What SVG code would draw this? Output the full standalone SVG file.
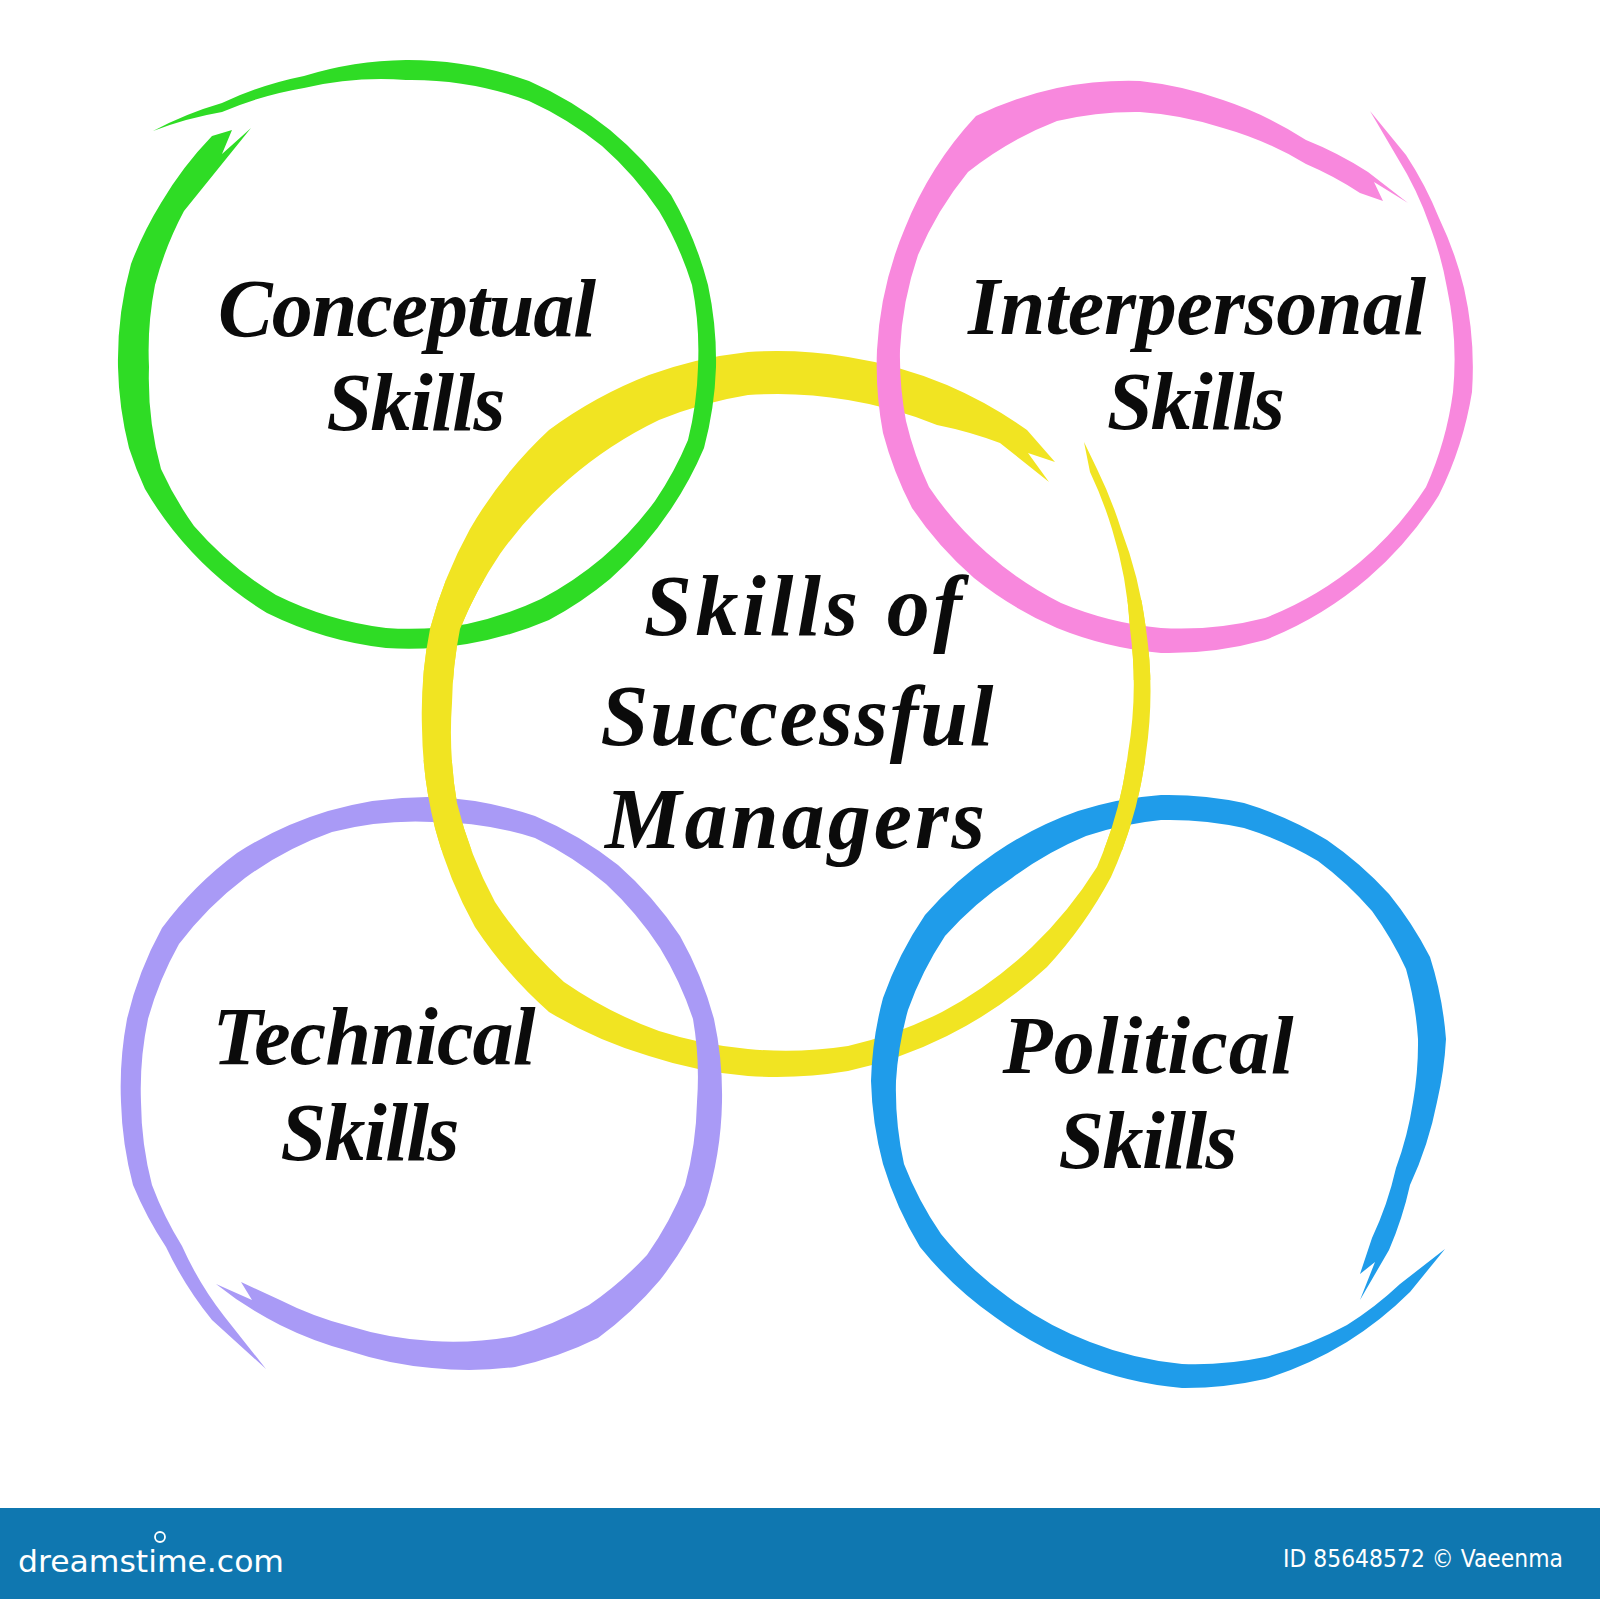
<svg xmlns="http://www.w3.org/2000/svg" xmlns:xlink="http://www.w3.org/1999/xlink" width="1600" height="1599" viewBox="0 0 1600 1599">
<style>
.lbl{font-family:"Liberation Serif","Times New Roman",serif;font-weight:bold;font-style:italic;font-size:82px;fill:#0b0b0b;text-anchor:middle}
.big{font-size:86px}
.foot{font-family:"DejaVu Sans","Liberation Sans",sans-serif;fill:#ffffff}
</style>
<defs>
<path id="ring-yellow" d="M1055,462 L1027,430 A430 430 0 0 0 947,385 A430 430 0 0 0 848,357 A430 430 0 0 0 748,352 A430 430 0 0 0 649,375 A430 430 0 0 0 549,430 A430 430 0 0 0 470,529 A430 430 0 0 0 430,629 A430 430 0 0 0 422,728 A430 430 0 0 0 435,828 A430 430 0 0 0 475,927 A430 430 0 0 0 549,1012 A430 430 0 0 0 649,1056 A430 430 0 0 0 748,1076 A430 430 0 0 0 848,1071 A430 430 0 0 0 947,1036 A430 430 0 0 0 1047,967 A430 430 0 0 0 1111,877 A430 430 0 0 0 1146,753 A430 430 0 0 0 1146,629 A430 430 0 0 0 1121,529 A430 430 0 0 0 1097,469 L1084,442 L1090,472 A410 410 0 0 1 1112,529 A410 410 0 0 1 1130,629 A410 410 0 0 1 1128,753 A410 410 0 0 1 1097,867 A410 410 0 0 1 1032,947 A410 410 0 0 1 942,1012 A410 410 0 0 1 848,1046 A410 410 0 0 1 748,1049 A410 410 0 0 1 659,1031 A410 410 0 0 1 564,982 A410 410 0 0 1 495,902 A410 410 0 0 1 457,803 A410 410 0 0 1 452,703 A410 410 0 0 1 460,629 A410 410 0 0 1 500,554 A410 410 0 0 1 569,479 A410 410 0 0 1 659,420 A410 410 0 0 1 748,395 A410 410 0 0 1 848,400 A410 410 0 0 1 937,425 A410 410 0 0 1 1000,443 L1049,482 L1028,453 Z"/>
<clipPath id="yellow-over">
<rect x="400" y="580" width="120" height="100"/>
<rect x="1090" y="600" width="90" height="80"/>
<rect x="400" y="760" width="110" height="90"/>
<rect x="1080" y="760" width="100" height="90"/>
</clipPath>
</defs>
<rect x="0" y="0" width="1600" height="1599" fill="#ffffff"/>

<g id="center-ring">
<use xlink:href="#ring-yellow" href="#ring-yellow" fill="#f1e422"/>
</g>

<g id="conceptual-skills">
<path fill="#2fdc25" d="M232,130 L212,136 A360 360 0 0 0 161,203 A360 360 0 0 0 131,264 A360 360 0 0 0 118,367 A360 360 0 0 0 129,448 A360 360 0 0 0 145,489 A360 360 0 0 0 173,530 A360 360 0 0 0 267,613 A360 360 0 0 0 386,648 A360 360 0 0 0 467,644 A360 360 0 0 0 549,620 A360 360 0 0 0 610,579 A360 360 0 0 0 671,509 A360 360 0 0 0 704,448 A360 360 0 0 0 716,367 A360 360 0 0 0 708,285 A360 360 0 0 0 671,195 A360 360 0 0 0 610,130 A360 360 0 0 0 529,81 A360 360 0 0 0 406,60 A360 360 0 0 0 304,76 A360 360 0 0 0 222,103 A360 360 0 0 0 153,131 A360 360 0 0 1 222,112 A360 360 0 0 1 304,88 A340 340 0 0 1 406,80 A340 340 0 0 1 529,101 A340 340 0 0 1 602,146 A340 340 0 0 1 659,211 A340 340 0 0 1 692,285 A340 340 0 0 1 698,367 A340 340 0 0 1 688,440 A340 340 0 0 1 655,501 A340 340 0 0 1 602,558 A340 340 0 0 1 541,599 A340 340 0 0 1 467,624 A340 340 0 0 1 386,628 A340 340 0 0 1 276,595 A340 340 0 0 1 194,526 A340 340 0 0 1 161,469 A340 340 0 0 1 149,367 A340 340 0 0 1 155,285 A340 340 0 0 1 184,211 L251,128 L222,154 Z"/>
<text class="lbl" x="407" y="336" textLength="378" lengthAdjust="spacing">Conceptual</text>
<text class="lbl" x="416" y="430" textLength="179" lengthAdjust="spacing">Skills</text>
</g>

<g id="interpersonal-skills">
<path fill="#f888dd" d="M1408,203 L1368,172 A360 360 0 0 0 1306,140 A360 360 0 0 0 1223,100 A360 360 0 0 0 1140,81 A360 360 0 0 0 1057,88 A360 360 0 0 0 976,116 A360 360 0 0 0 905,228 A360 360 0 0 0 877,350 A360 360 0 0 0 883,433 A360 360 0 0 0 912,508 A360 360 0 0 0 974,578 A360 360 0 0 0 1057,628 A360 360 0 0 0 1161,653 A360 360 0 0 0 1265,640 A360 360 0 0 0 1368,578 A360 360 0 0 0 1439,495 A360 360 0 0 0 1472,392 A360 360 0 0 0 1464,288 A360 360 0 0 0 1439,218 A360 360 0 0 0 1406,155 L1370,111 L1397,157 A340 340 0 0 1 1430,226 A340 340 0 0 1 1447,288 A340 340 0 0 1 1453,392 A340 340 0 0 1 1426,487 A340 340 0 0 1 1360,562 A340 340 0 0 1 1265,618 A340 340 0 0 1 1161,628 A340 340 0 0 1 1061,603 A340 340 0 0 1 987,553 A340 340 0 0 1 929,487 A340 340 0 0 1 906,421 A340 340 0 0 1 900,350 A340 340 0 0 1 918,255 A340 340 0 0 1 968,172 A340 340 0 0 1 1057,121 A340 340 0 0 1 1140,112 A340 340 0 0 1 1223,128 A340 340 0 0 1 1306,164 A340 340 0 0 1 1360,193 L1383,201 L1374,182 Z"/>
<text class="lbl" x="1197" y="334" textLength="458" lengthAdjust="spacing">Interpersonal</text>
<text class="lbl" x="1196" y="429" textLength="178" lengthAdjust="spacing">Skills</text>
</g>

<g id="technical-skills">
<path fill="#a99af6" d="M216,1284 A360 360 0 0 0 280,1325 A360 360 0 0 0 349,1351 A360 360 0 0 0 432,1368 A360 360 0 0 0 515,1367 A360 360 0 0 0 598,1338 A360 360 0 0 0 660,1280 A360 360 0 0 0 705,1205 A360 360 0 0 0 722,1102 A360 360 0 0 0 714,1019 A360 360 0 0 0 680,936 A360 360 0 0 0 618,865 A360 360 0 0 0 535,816 A360 360 0 0 0 432,797 A360 360 0 0 0 328,811 A360 360 0 0 0 237,853 A360 360 0 0 0 162,928 A360 360 0 0 0 127,1019 A360 360 0 0 0 121,1102 A360 360 0 0 0 133,1185 A360 360 0 0 0 166,1247 A360 360 0 0 0 212,1320 L266,1369 L224,1316 A340 340 0 0 1 182,1246 A340 340 0 0 1 152,1185 A340 340 0 0 1 141,1102 A340 340 0 0 1 148,1019 A340 340 0 0 1 179,944 A340 340 0 0 1 245,878 A340 340 0 0 1 332,832 A340 340 0 0 1 432,822 A340 340 0 0 1 535,838 A340 340 0 0 1 606,884 A340 340 0 0 1 660,948 A340 340 0 0 1 693,1019 A340 340 0 0 1 697,1102 A340 340 0 0 1 685,1185 A340 340 0 0 1 647,1255 A340 340 0 0 1 589,1305 A340 340 0 0 1 515,1336 A340 340 0 0 1 432,1341 A340 340 0 0 1 349,1326 A340 340 0 0 1 280,1300 L241,1282 L252,1300 Z"/>
<text class="lbl" x="374" y="1064" textLength="323" lengthAdjust="spacing">Technical</text>
<text class="lbl" x="370" y="1160" textLength="179" lengthAdjust="spacing">Skills</text>
</g>

<g id="political-skills">
<path fill="#1f9cea" d="M1360,1300 L1389,1250 A360 360 0 0 0 1410,1185 A360 360 0 0 0 1437,1102 A360 360 0 0 0 1446,1039 A360 360 0 0 0 1430,957 A360 360 0 0 0 1389,894 A360 360 0 0 0 1327,840 A360 360 0 0 0 1244,803 A360 360 0 0 0 1161,795 A360 360 0 0 0 1078,811 A360 360 0 0 0 995,853 A360 360 0 0 0 925,915 A360 360 0 0 0 883,998 A360 360 0 0 0 871,1081 A360 360 0 0 0 883,1164 A360 360 0 0 0 920,1247 A360 360 0 0 0 995,1317 A360 360 0 0 0 1078,1363 A360 360 0 0 0 1182,1388 A360 360 0 0 0 1265,1379 A360 360 0 0 0 1347,1342 A360 360 0 0 0 1410,1292 L1445,1249 L1400,1284 A340 340 0 0 1 1347,1325 A340 340 0 0 1 1265,1357 A340 340 0 0 1 1182,1364 A340 340 0 0 1 1090,1342 A340 340 0 0 1 1008,1297 A340 340 0 0 1 941,1234 A340 340 0 0 1 904,1164 A340 340 0 0 1 896,1081 A340 340 0 0 1 908,1010 A340 340 0 0 1 945,936 A340 340 0 0 1 1012,878 A340 340 0 0 1 1086,836 A340 340 0 0 1 1161,820 A340 340 0 0 1 1244,828 A340 340 0 0 1 1318,861 A340 340 0 0 1 1372,911 A340 340 0 0 1 1406,969 A340 340 0 0 1 1418,1039 A340 340 0 0 1 1413,1102 A340 340 0 0 1 1396,1168 A340 340 0 0 1 1372,1238 L1360,1274 L1375,1262 Z"/>
<text class="lbl" x="1148" y="1073" textLength="291" lengthAdjust="spacing">Political</text>
<text class="lbl" x="1148" y="1168" textLength="179" lengthAdjust="spacing">Skills</text>
</g>

<g id="yellow-overlaps">
<use xlink:href="#ring-yellow" href="#ring-yellow" fill="#f1e422" clip-path="url(#yellow-over)"/>
</g>

<g id="center-label">
<text class="lbl big" x="803" y="635" textLength="318" lengthAdjust="spacing">Skills of</text>
<text class="lbl big" x="797" y="745" textLength="393" lengthAdjust="spacing">Successful</text>
<text class="lbl big" x="795" y="848" textLength="380" lengthAdjust="spacing">Managers</text>
</g>

<g id="footer">
<rect x="0" y="1508" width="1600" height="91" fill="#0f77b0"/>
<circle cx="160" cy="1537" r="5" fill="none" stroke="#ffffff" stroke-width="1.8"/>
<text class="foot" x="18" y="1572" font-size="31" textLength="266" lengthAdjust="spacingAndGlyphs">dreamstime.com</text>
<text class="foot" x="1563" y="1567" font-size="25" text-anchor="end" textLength="280" lengthAdjust="spacingAndGlyphs">ID 85648572 © Vaeenma</text>
</g>
</svg>
